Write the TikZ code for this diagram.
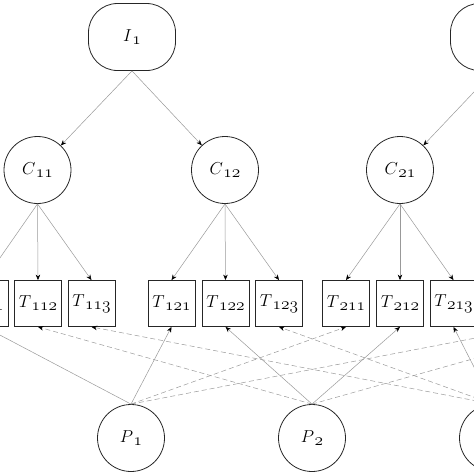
\documentclass[tikz,border=0pt]{standalone}
\usetikzlibrary{arrows.meta}
\newcommand{\subnum}[1]{\raisebox{-3pt}{\fontsize{17.28}{20}\selectfont$\mathnormal{#1}$}}
\newcommand{\lab}[2]{$#1$\kern0.5pt\subnum{#2}}
\begin{document}
\begin{tikzpicture}[x=1pt,y=-1pt,
  txt/.style={font=\fontsize{17.28}{20}\selectfont},
  lat/.style={txt,circle,draw=black!85,line width=0.8pt,minimum size=67pt,inner sep=0pt},
  top/.style={txt,rectangle,rounded corners=29pt,draw=black!85,line width=0.8pt,minimum width=87pt,minimum height=67pt,inner sep=0pt},
  obs/.style={txt,rectangle,draw=black!85,line width=0.8pt,minimum width=47pt,minimum height=46pt,inner sep=0pt},
  link/.style={draw=black!40,line width=0.5pt,-{Stealth[black,length=5.5pt,width=4.5pt]}},
  dlink/.style={link,dash pattern=on 5pt off 3pt},
]
\useasboundingbox (0,0) rectangle (474,474);
\clip (0,0) rectangle (474,474);
% top level
\node[top] (I1) at (132,37) {\lab{I}{1}};
\node[top] (I2) at (494,37) {};
% middle level
\node[lat] (C11) at (37.5,170) {\lab{C}{11}};
\node[lat] (C12) at (225,170) {\lab{C}{12}};
\node[lat] (C21) at (400,170) {\lab{C}{21}};
% indicators
\node[obs] (T111) at (-15.5,303.5) {\lab{T}{111}};
\node[obs] (T112) at (38,303.5) {\lab{T}{112}};
\node[obs] (T113) at (91.5,303.5) {\lab{T}{113}};
\node[obs] (T121) at (171.5,303.5) {\lab{T}{121}};
\node[obs] (T122) at (225.5,303.5) {\lab{T}{122}};
\node[obs] (T123) at (279,303.5) {\lab{T}{123}};
\node[obs] (T211) at (346,303.5) {\lab{T}{211}};
\node[obs] (T212) at (400,303.5) {\lab{T}{212}};
\node[obs] (T213) at (453.5,303.5) {\lab{T}{213}};
\coordinate (T221) at (533,327);
\coordinate (T222) at (586.5,327);
% bottom level
\node[lat] (P1) at (131,438) {\lab{P}{1}};
\node[lat] (P2) at (312,438) {\lab{P}{2}};
\node[lat] (P3) at (493,438) {};
% I -> C
\draw[link] (I1.south) -- (C11);
\draw[link] (I1.south) -- (C12);
\draw[link] (I2.south) -- (C21);
% C -> T
\foreach \c/\a/\b/\d in {C11/T111/T112/T113,C12/T121/T122/T123,C21/T211/T212/T213}{
  \draw[link] (\c.south) -- (\a.north);
  \draw[link] (\c.south) -- (\b.north);
  \draw[link] (\c.south) -- (\d.north);
}
% P -> T
\draw[link] (P1.north) -- (T111.south);
\draw[link] (P1.north) -- (T121.south);
\draw[dlink] (P1.north) -- (T211.south);
\draw[dlink] (P1.north) -- (T221);
\draw[dlink] (P2.north) -- (T112.south);
\draw[link] (P2.north) -- (T122.south);
\draw[link] (P2.north) -- (T212.south);
\draw[dlink] (P2.north) -- (T222);
\draw[dlink] (P3.north) -- (T113.south);
\draw[dlink] (P3.north) -- (T123.south);
\draw[link] (P3.north) -- (T213.south);
\end{tikzpicture}
\end{document}
